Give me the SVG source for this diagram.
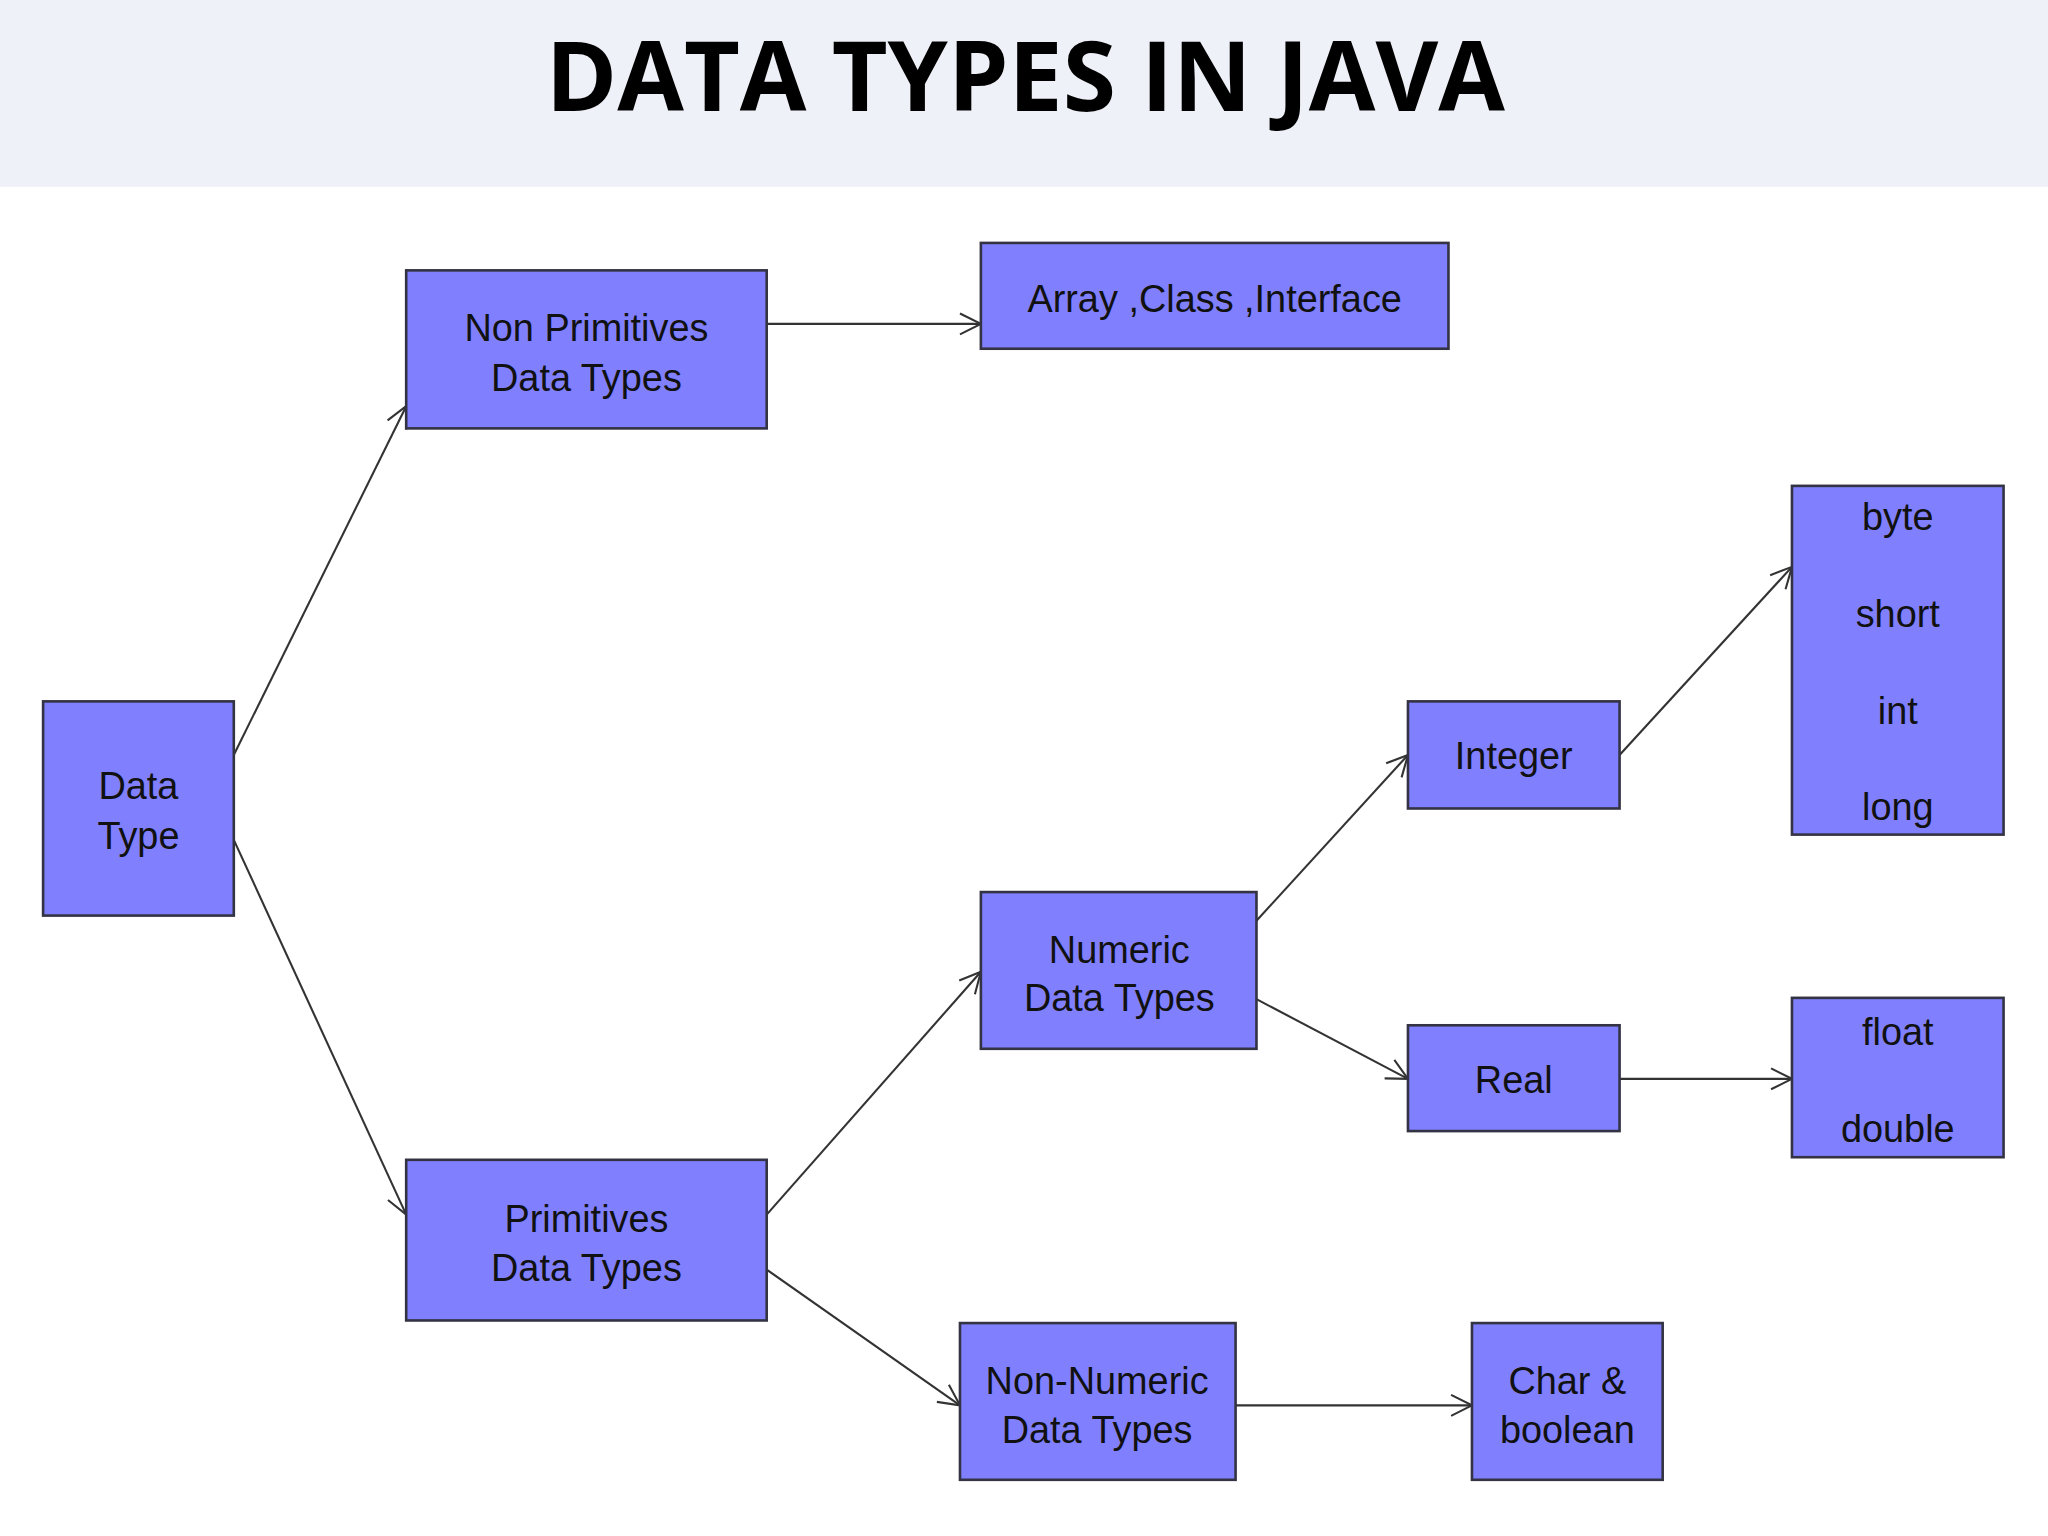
<svg xmlns="http://www.w3.org/2000/svg" width="2048" height="1536" viewBox="0 0 2048 1536">
<style>
.n{fill:#8080ff;stroke:#333344;stroke-width:2}
.t{font-family:"Liberation Sans Narrow","Liberation Sans",Arial,sans-serif;font-size:29px;fill:#111;text-anchor:middle}
.c line{stroke:#333;stroke-width:1.6;fill:none}
</style>
<defs><marker id="a" viewBox="0 0 20 20" refX="18" refY="10" markerWidth="20" markerHeight="20" markerUnits="userSpaceOnUse" orient="auto"><path d="M2,2 L18,10 L2,18" fill="none" stroke="#333" stroke-width="1.6"/></marker></defs>
<rect width="2048" height="1536" fill="#fff"/>
<g transform="scale(1.3061)">
<rect x="0" y="0" width="1568" height="143" fill="#eef1f7"/>
<text x="785" y="85" font-family="'Open Sans','DejaVu Sans',sans-serif" font-weight="bold" font-size="74" text-anchor="middle" fill="#000">DATA TYPES IN JAVA</text>
<g class="c">
<line x1="179" y1="578" x2="311" y2="311" marker-end="url(#a)"/>
<line x1="179" y1="643" x2="311" y2="930" marker-end="url(#a)"/>
<line x1="587" y1="248" x2="751" y2="248" marker-end="url(#a)"/>
<line x1="587" y1="930" x2="751" y2="744" marker-end="url(#a)"/>
<line x1="587" y1="972" x2="735" y2="1076" marker-end="url(#a)"/>
<line x1="962" y1="705" x2="1078" y2="578" marker-end="url(#a)"/>
<line x1="962" y1="765" x2="1078" y2="826" marker-end="url(#a)"/>
<line x1="1240" y1="578" x2="1372" y2="434" marker-end="url(#a)"/>
<line x1="1240" y1="826" x2="1372" y2="826" marker-end="url(#a)"/>
<line x1="946" y1="1076" x2="1127" y2="1076" marker-end="url(#a)"/>
</g>
<g id="datatype"><rect class="n" x="33" y="537" width="146" height="164"/><text class="t" x="106" y="612">Data</text><text class="t" x="106" y="650">Type</text></g>
<g id="nonprim"><rect class="n" x="311" y="207" width="276" height="121"/><text class="t" x="449" y="261">Non Primitives</text><text class="t" x="449" y="299">Data Types</text></g>
<g id="array"><rect class="n" x="751" y="186" width="358" height="81"/><text class="t" x="930" y="239">Array ,Class ,Interface</text></g>
<g id="prim"><rect class="n" x="311" y="888" width="276" height="123"/><text class="t" x="449" y="943">Primitives</text><text class="t" x="449" y="981">Data Types</text></g>
<g id="numeric"><rect class="n" x="751" y="683" width="211" height="120"/><text class="t" x="857" y="737">Numeric</text><text class="t" x="857" y="774">Data Types</text></g>
<g id="nonnumeric"><rect class="n" x="735" y="1013" width="211" height="120"/><text class="t" x="840" y="1067">Non-Numeric</text><text class="t" x="840" y="1105">Data Types</text></g>
<g id="integer"><rect class="n" x="1078" y="537" width="162" height="82"/><text class="t" x="1159" y="589">Integer</text></g>
<g id="real"><rect class="n" x="1078" y="785" width="162" height="81"/><text class="t" x="1159" y="837">Real</text></g>
<g id="ints"><rect class="n" x="1372" y="372" width="162" height="267"/><text class="t" x="1453" y="406">byte</text><text class="t" x="1453" y="480">short</text><text class="t" x="1453" y="554">int</text><text class="t" x="1453" y="628">long</text></g>
<g id="floats"><rect class="n" x="1372" y="764" width="162" height="122"/><text class="t" x="1453" y="800">float</text><text class="t" x="1453" y="874">double</text></g>
<g id="char"><rect class="n" x="1127" y="1013" width="146" height="120"/><text class="t" x="1200" y="1067">Char &amp;</text><text class="t" x="1200" y="1105">boolean</text></g>
</g>
</svg>
